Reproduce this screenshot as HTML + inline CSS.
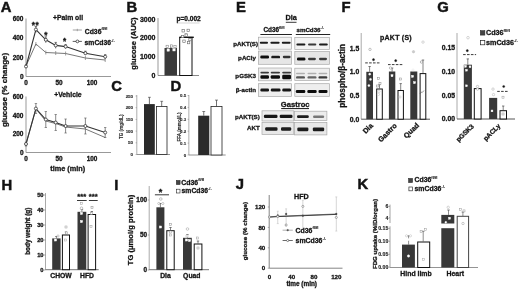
<!DOCTYPE html>
<html><head><meta charset="utf-8"><style>
html,body{margin:0;padding:0;background:#fff;}
svg{display:block;}
text{font-family:"Liberation Sans", Arial, sans-serif;stroke:#1a1a1a;stroke-width:0.3px;}
</style></head><body>
<svg width="520" height="289" viewBox="0 0 520 289">
<defs><filter id="bl" x="-50%" y="-100%" width="200%" height="300%"><feGaussianBlur stdDeviation="0.35"/></filter></defs>
<rect width="520" height="289" fill="#fff"/>
<text x="0.8" y="11.9" font-size="14.8" text-anchor="start" font-weight="bold" fill="#111" style="stroke-width:0.5px">A</text>
<text x="126.6" y="11.9" font-size="14.8" text-anchor="start" font-weight="bold" fill="#111" style="stroke-width:0.5px">B</text>
<text x="111.3" y="91.3" font-size="14.8" text-anchor="start" font-weight="bold" fill="#111" style="stroke-width:0.5px">C</text>
<text x="170.5" y="91.3" font-size="14.8" text-anchor="start" font-weight="bold" fill="#111" style="stroke-width:0.5px">D</text>
<text x="236.1" y="11.9" font-size="14.8" text-anchor="start" font-weight="bold" fill="#111" style="stroke-width:0.5px">E</text>
<text x="341.6" y="11.9" font-size="14.8" text-anchor="start" font-weight="bold" fill="#111" style="stroke-width:0.5px">F</text>
<text x="437.3" y="11.9" font-size="14.8" text-anchor="start" font-weight="bold" fill="#111" style="stroke-width:0.5px">G</text>
<text x="1.6" y="189.5" font-size="14.8" text-anchor="start" font-weight="bold" fill="#111" style="stroke-width:0.5px">H</text>
<text x="114.3" y="189.6" font-size="14.8" text-anchor="start" font-weight="bold" fill="#111" style="stroke-width:0.5px">I</text>
<text x="235.8" y="189.4" font-size="14.8" text-anchor="start" font-weight="bold" fill="#111" style="stroke-width:0.5px">J</text>
<text x="357.6" y="189.4" font-size="14.8" text-anchor="start" font-weight="bold" fill="#111" style="stroke-width:0.5px">K</text>
<line x1="26" y1="18.5" x2="26" y2="76.5" stroke="#aaa" stroke-width="1.2"/>
<line x1="26" y1="76.5" x2="111" y2="76.5" stroke="#999" stroke-width="1.1"/>
<text x="23.5" y="78.8" font-size="6.5" text-anchor="end" font-weight="bold" fill="#111">0</text>
<text x="23.5" y="59.633333333333326" font-size="6.5" text-anchor="end" font-weight="bold" fill="#111">200</text>
<text x="23.5" y="40.46666666666666" font-size="6.5" text-anchor="end" font-weight="bold" fill="#111">400</text>
<text x="23.5" y="21.299999999999994" font-size="6.5" text-anchor="end" font-weight="bold" fill="#111">600</text>
<text x="26.0" y="84.7" font-size="6.4" text-anchor="middle" font-weight="bold" fill="#111">0</text>
<text x="59.0" y="84.7" font-size="6.4" text-anchor="middle" font-weight="bold" fill="#111">50</text>
<text x="92.0" y="84.7" font-size="6.4" text-anchor="middle" font-weight="bold" fill="#111">100</text>
<polyline points="26.0,66 35.9,44 45.8,52.5 55.7,53 65.6,53.5 85.4,58 105.2,60" fill="none" stroke="#777" stroke-width="1"/>
<polyline points="26.0,66.5 35.9,29.5 45.8,39.8 55.7,45.4 65.6,46.6 85.4,53.2 105.2,56.7" fill="none" stroke="#333" stroke-width="1.1"/>
<line x1="26.0" y1="64" x2="26.0" y2="68" stroke="#777" stroke-width="0.7"/>
<line x1="35.9" y1="42" x2="35.9" y2="46" stroke="#777" stroke-width="0.7"/>
<line x1="45.8" y1="50.5" x2="45.8" y2="54.5" stroke="#777" stroke-width="0.7"/>
<line x1="55.7" y1="51" x2="55.7" y2="55" stroke="#777" stroke-width="0.7"/>
<line x1="65.6" y1="51.5" x2="65.6" y2="55.5" stroke="#777" stroke-width="0.7"/>
<line x1="85.4" y1="56" x2="85.4" y2="60" stroke="#777" stroke-width="0.7"/>
<line x1="105.2" y1="58" x2="105.2" y2="62" stroke="#777" stroke-width="0.7"/>
<line x1="26.0" y1="65.0" x2="26.0" y2="68.0" stroke="#333" stroke-width="0.7"/>
<line x1="24.8" y1="65.0" x2="27.2" y2="65.0" stroke="#333" stroke-width="0.6"/>
<circle cx="26.0" cy="66.5" r="1.5" fill="#fff" stroke="#333" stroke-width="0.8"/>
<line x1="35.9" y1="26.5" x2="35.9" y2="32.5" stroke="#333" stroke-width="0.7"/>
<line x1="34.699999999999996" y1="26.5" x2="37.1" y2="26.5" stroke="#333" stroke-width="0.6"/>
<circle cx="35.9" cy="29.5" r="1.5" fill="#fff" stroke="#333" stroke-width="0.8"/>
<line x1="45.8" y1="36.8" x2="45.8" y2="42.8" stroke="#333" stroke-width="0.7"/>
<line x1="44.599999999999994" y1="36.8" x2="47.0" y2="36.8" stroke="#333" stroke-width="0.6"/>
<circle cx="45.8" cy="39.8" r="1.5" fill="#fff" stroke="#333" stroke-width="0.8"/>
<line x1="55.7" y1="42.4" x2="55.7" y2="48.4" stroke="#333" stroke-width="0.7"/>
<line x1="54.5" y1="42.4" x2="56.900000000000006" y2="42.4" stroke="#333" stroke-width="0.6"/>
<circle cx="55.7" cy="45.4" r="1.5" fill="#fff" stroke="#333" stroke-width="0.8"/>
<line x1="65.6" y1="44.6" x2="65.6" y2="48.6" stroke="#333" stroke-width="0.7"/>
<line x1="64.39999999999999" y1="44.6" x2="66.8" y2="44.6" stroke="#333" stroke-width="0.6"/>
<circle cx="65.6" cy="46.6" r="1.5" fill="#fff" stroke="#333" stroke-width="0.8"/>
<line x1="85.4" y1="51.2" x2="85.4" y2="55.2" stroke="#333" stroke-width="0.7"/>
<line x1="84.2" y1="51.2" x2="86.60000000000001" y2="51.2" stroke="#333" stroke-width="0.6"/>
<circle cx="85.4" cy="53.2" r="1.5" fill="#fff" stroke="#333" stroke-width="0.8"/>
<line x1="105.2" y1="54.7" x2="105.2" y2="58.7" stroke="#333" stroke-width="0.7"/>
<line x1="104.0" y1="54.7" x2="106.4" y2="54.7" stroke="#333" stroke-width="0.6"/>
<circle cx="105.2" cy="56.7" r="1.5" fill="#fff" stroke="#333" stroke-width="0.8"/>
<text x="35.6" y="27.6" font-size="8.2" text-anchor="middle" font-weight="bold" fill="#111" letter-spacing="0.6">**</text>
<text x="45.8" y="37.6" font-size="8.2" text-anchor="middle" font-weight="bold" fill="#111">*</text>
<text x="64.5" y="44.2" font-size="8.2" text-anchor="middle" font-weight="bold" fill="#111">*</text>
<text x="53" y="20.2" font-size="6.8" text-anchor="start" font-weight="bold" fill="#111">+Palm oil</text>
<line x1="72.8" y1="30" x2="81.9" y2="30" stroke="#888" stroke-width="0.8"/>
<line x1="77.3" y1="28.8" x2="77.3" y2="31.2" stroke="#888" stroke-width="0.7"/>
<text x="84.8" y="33.5" font-size="6.8" text-anchor="start" font-weight="bold" fill="#111">Cd36<tspan font-size="58%" dy="-3.4" style="stroke-width:0.1px">fl/fl</tspan></text>
<line x1="72.7" y1="41.4" x2="81.9" y2="41.4" stroke="#333" stroke-width="0.8"/>
<circle cx="77.4" cy="41.4" r="1.4" fill="#fff" stroke="#333" stroke-width="0.8"/>
<text x="84.6" y="45" font-size="6.8" text-anchor="start" font-weight="bold" fill="#111">smCd36<tspan font-size="58%" dy="-3.4" style="stroke-width:0.1px">-/-</tspan></text>
<line x1="26" y1="96.5" x2="26" y2="152.5" stroke="#aaa" stroke-width="1.2"/>
<line x1="26" y1="152.5" x2="111" y2="152.5" stroke="#999" stroke-width="1.1"/>
<text x="23.5" y="154.8" font-size="6.5" text-anchor="end" font-weight="bold" fill="#111">0</text>
<text x="23.5" y="136.3" font-size="6.5" text-anchor="end" font-weight="bold" fill="#111">200</text>
<text x="23.5" y="117.8" font-size="6.5" text-anchor="end" font-weight="bold" fill="#111">400</text>
<text x="23.5" y="99.3" font-size="6.5" text-anchor="end" font-weight="bold" fill="#111">600</text>
<text x="26.0" y="161" font-size="6.4" text-anchor="middle" font-weight="bold" fill="#111">0</text>
<text x="59.0" y="161" font-size="6.4" text-anchor="middle" font-weight="bold" fill="#111">50</text>
<text x="92.0" y="161" font-size="6.4" text-anchor="middle" font-weight="bold" fill="#111">100</text>
<text x="67.7" y="170.5" font-size="7.3" text-anchor="middle" font-weight="bold" fill="#111">time (min)</text>
<text x="54.2" y="96.8" font-size="6.8" text-anchor="start" font-weight="bold" fill="#111">+Vehicle</text>
<polyline points="26.0,144 35.9,109 45.8,121 55.7,123.5 65.6,127 85.4,129 105.2,137.5" fill="none" stroke="#777" stroke-width="1"/>
<polyline points="26.0,144 35.9,108.5 45.8,119.5 55.7,122.5 65.6,126 85.4,126 105.2,132.5" fill="none" stroke="#333" stroke-width="1.1"/>
<line x1="26.0" y1="142" x2="26.0" y2="146" stroke="#555" stroke-width="0.7"/>
<line x1="24.8" y1="142" x2="27.2" y2="142" stroke="#555" stroke-width="0.6"/>
<line x1="24.8" y1="146" x2="27.2" y2="146" stroke="#555" stroke-width="0.6"/>
<circle cx="26.0" cy="144" r="1.5" fill="#fff" stroke="#333" stroke-width="0.8"/>
<line x1="35.9" y1="103.5" x2="35.9" y2="113.5" stroke="#555" stroke-width="0.7"/>
<line x1="34.699999999999996" y1="103.5" x2="37.1" y2="103.5" stroke="#555" stroke-width="0.6"/>
<line x1="34.699999999999996" y1="113.5" x2="37.1" y2="113.5" stroke="#555" stroke-width="0.6"/>
<circle cx="35.9" cy="108.5" r="1.5" fill="#fff" stroke="#333" stroke-width="0.8"/>
<line x1="45.8" y1="111.5" x2="45.8" y2="127.5" stroke="#555" stroke-width="0.7"/>
<line x1="44.599999999999994" y1="111.5" x2="47.0" y2="111.5" stroke="#555" stroke-width="0.6"/>
<line x1="44.599999999999994" y1="127.5" x2="47.0" y2="127.5" stroke="#555" stroke-width="0.6"/>
<circle cx="45.8" cy="119.5" r="1.5" fill="#fff" stroke="#333" stroke-width="0.8"/>
<line x1="55.7" y1="114.5" x2="55.7" y2="130.5" stroke="#555" stroke-width="0.7"/>
<line x1="54.5" y1="114.5" x2="56.900000000000006" y2="114.5" stroke="#555" stroke-width="0.6"/>
<line x1="54.5" y1="130.5" x2="56.900000000000006" y2="130.5" stroke="#555" stroke-width="0.6"/>
<circle cx="55.7" cy="122.5" r="1.5" fill="#fff" stroke="#333" stroke-width="0.8"/>
<line x1="65.6" y1="119" x2="65.6" y2="133" stroke="#555" stroke-width="0.7"/>
<line x1="64.39999999999999" y1="119" x2="66.8" y2="119" stroke="#555" stroke-width="0.6"/>
<line x1="64.39999999999999" y1="133" x2="66.8" y2="133" stroke="#555" stroke-width="0.6"/>
<circle cx="65.6" cy="126" r="1.5" fill="#fff" stroke="#333" stroke-width="0.8"/>
<line x1="85.4" y1="118" x2="85.4" y2="134" stroke="#555" stroke-width="0.7"/>
<line x1="84.2" y1="118" x2="86.60000000000001" y2="118" stroke="#555" stroke-width="0.6"/>
<line x1="84.2" y1="134" x2="86.60000000000001" y2="134" stroke="#555" stroke-width="0.6"/>
<circle cx="85.4" cy="126" r="1.5" fill="#fff" stroke="#333" stroke-width="0.8"/>
<line x1="105.2" y1="127.5" x2="105.2" y2="137.5" stroke="#555" stroke-width="0.7"/>
<line x1="104.0" y1="127.5" x2="106.4" y2="127.5" stroke="#555" stroke-width="0.6"/>
<line x1="104.0" y1="137.5" x2="106.4" y2="137.5" stroke="#555" stroke-width="0.6"/>
<circle cx="105.2" cy="132.5" r="1.5" fill="#fff" stroke="#333" stroke-width="0.8"/>
<text x="6.8" y="90" font-size="7.9" text-anchor="middle" font-weight="bold" fill="#111" transform="rotate(-90 6.8 90)">glucose (% change)</text>
<line x1="158" y1="18" x2="158" y2="75.5" stroke="#aaa" stroke-width="1.2"/>
<line x1="158" y1="75.5" x2="199" y2="75.5" stroke="#888" stroke-width="1.1"/>
<text x="155.5" y="78.0" font-size="7" text-anchor="end" font-weight="bold" fill="#111">0</text>
<text x="155.5" y="59.16666666666667" font-size="7" text-anchor="end" font-weight="bold" fill="#111">1000</text>
<text x="155.5" y="40.333333333333336" font-size="7" text-anchor="end" font-weight="bold" fill="#111">2000</text>
<text x="155.5" y="21.5" font-size="7" text-anchor="end" font-weight="bold" fill="#111">3000</text>
<text x="136" y="43.5" font-size="7.6" text-anchor="middle" font-weight="bold" fill="#111" transform="rotate(-90 136 43.5)">glucose (AUC)</text>
<rect x="164.5" y="48" width="12.5" height="27.5" fill="#3a3a3a" stroke="none" stroke-width="1"/>
<rect x="179.7" y="37.4" width="12.3" height="38.1" fill="#fff" stroke="#111" stroke-width="1.0"/>
<line x1="179.5" y1="37.3" x2="193.8" y2="37.3" stroke="#111" stroke-width="1.4"/>
<line x1="170.75" y1="45.5" x2="170.75" y2="48" stroke="#333" stroke-width="0.6"/>
<line x1="186" y1="34" x2="186" y2="37" stroke="#333" stroke-width="0.6"/>
<line x1="184.6" y1="34" x2="187.4" y2="34" stroke="#333" stroke-width="0.6"/>
<rect x="166.04999999999998" y="45.25" width="2.3" height="2.3" fill="#fff" stroke="#888" stroke-width="0.6"/>
<rect x="170.35" y="44.85" width="2.3" height="2.3" fill="#fff" stroke="#888" stroke-width="0.6"/>
<rect x="173.85" y="45.45" width="2.3" height="2.3" fill="#fff" stroke="#888" stroke-width="0.6"/>
<rect x="167.04999999999998" y="48.85" width="2.3" height="2.3" fill="#fff" stroke="#fff" stroke-width="0.5"/>
<rect x="172.85" y="48.65" width="2.3" height="2.3" fill="#fff" stroke="#fff" stroke-width="0.5"/>
<rect x="182.0" y="29.6" width="2.4" height="2.4" fill="#fff" stroke="#666" stroke-width="0.6"/>
<rect x="187.0" y="29.2" width="2.4" height="2.4" fill="#fff" stroke="#666" stroke-width="0.6"/>
<rect x="181.4" y="35.3" width="2.4" height="2.4" fill="#fff" stroke="#666" stroke-width="0.6"/>
<rect x="185.0" y="34.0" width="2.4" height="2.4" fill="#fff" stroke="#666" stroke-width="0.6"/>
<rect x="188.8" y="38.4" width="2.4" height="2.4" fill="#fff" stroke="#666" stroke-width="0.6"/>
<rect x="182.8" y="40.0" width="2.4" height="2.4" fill="#fff" stroke="#666" stroke-width="0.6"/>
<rect x="187.4" y="41.4" width="2.4" height="2.4" fill="#fff" stroke="#666" stroke-width="0.6"/>
<text x="188.6" y="21.3" font-size="6.6" text-anchor="middle" font-weight="bold" fill="#111">p=0.002</text>
<line x1="177.5" y1="23" x2="199.5" y2="23" stroke="#bbb" stroke-width="0.6"/>
<line x1="136.8" y1="95" x2="136.8" y2="154.5" stroke="#999" stroke-width="0.8"/>
<line x1="136.8" y1="154.5" x2="170" y2="154.5" stroke="#777" stroke-width="0.8"/>
<line x1="135.6" y1="154.5" x2="136.8" y2="154.5" stroke="#777" stroke-width="0.5"/>
<text x="133" y="156.1" font-size="4.4" text-anchor="end" font-weight="bold" fill="#333" style="stroke-width:0.12px">0</text>
<line x1="135.6" y1="142.8" x2="136.8" y2="142.8" stroke="#777" stroke-width="0.5"/>
<text x="133" y="144.4" font-size="4.4" text-anchor="end" font-weight="bold" fill="#333" style="stroke-width:0.12px">50</text>
<line x1="135.6" y1="131.1" x2="136.8" y2="131.1" stroke="#777" stroke-width="0.5"/>
<text x="133" y="132.7" font-size="4.4" text-anchor="end" font-weight="bold" fill="#333" style="stroke-width:0.12px">100</text>
<line x1="135.6" y1="119.4" x2="136.8" y2="119.4" stroke="#777" stroke-width="0.5"/>
<text x="133" y="121.0" font-size="4.4" text-anchor="end" font-weight="bold" fill="#333" style="stroke-width:0.12px">150</text>
<line x1="135.6" y1="107.69999999999999" x2="136.8" y2="107.69999999999999" stroke="#777" stroke-width="0.5"/>
<text x="133" y="109.29999999999998" font-size="4.4" text-anchor="end" font-weight="bold" fill="#333" style="stroke-width:0.12px">200</text>
<line x1="135.6" y1="96.0" x2="136.8" y2="96.0" stroke="#777" stroke-width="0.5"/>
<text x="133" y="97.6" font-size="4.4" text-anchor="end" font-weight="bold" fill="#333" style="stroke-width:0.12px">250</text>
<text x="122.9" y="126.8" font-size="4.6" text-anchor="middle" font-weight="bold" fill="#333" transform="rotate(-90 122.9 126.8)" style="stroke-width:0.12px">TG (mg/dL)</text>
<rect x="144" y="104.1" width="10.8" height="50.4" fill="#2a2a2a" stroke="none" stroke-width="1"/>
<rect x="156.4" y="106.4" width="10.6" height="48.1" fill="#fff" stroke="#222" stroke-width="0.8"/>
<line x1="149.4" y1="97.3" x2="149.4" y2="104.1" stroke="#333" stroke-width="0.7"/>
<line x1="148" y1="97.3" x2="150.8" y2="97.3" stroke="#333" stroke-width="0.6"/>
<line x1="161.7" y1="101.3" x2="161.7" y2="106.4" stroke="#333" stroke-width="0.7"/>
<line x1="160.3" y1="101.3" x2="163.1" y2="101.3" stroke="#333" stroke-width="0.6"/>
<line x1="188.85" y1="95" x2="188.85" y2="155" stroke="#999" stroke-width="0.8"/>
<line x1="188.85" y1="155" x2="225.7" y2="155" stroke="#777" stroke-width="0.8"/>
<line x1="187.6" y1="155.0" x2="188.85" y2="155.0" stroke="#777" stroke-width="0.5"/>
<text x="186.2" y="156.6" font-size="4.4" text-anchor="end" font-weight="bold" fill="#333" style="stroke-width:0.12px">0</text>
<line x1="187.6" y1="143.1" x2="188.85" y2="143.1" stroke="#777" stroke-width="0.5"/>
<text x="186.2" y="144.7" font-size="4.4" text-anchor="end" font-weight="bold" fill="#333" style="stroke-width:0.12px">0.1</text>
<line x1="187.6" y1="131.2" x2="188.85" y2="131.2" stroke="#777" stroke-width="0.5"/>
<text x="186.2" y="132.79999999999998" font-size="4.4" text-anchor="end" font-weight="bold" fill="#333" style="stroke-width:0.12px">0.2</text>
<line x1="187.6" y1="119.30000000000001" x2="188.85" y2="119.30000000000001" stroke="#777" stroke-width="0.5"/>
<text x="186.2" y="120.9" font-size="4.4" text-anchor="end" font-weight="bold" fill="#333" style="stroke-width:0.12px">0.3</text>
<line x1="187.6" y1="107.4" x2="188.85" y2="107.4" stroke="#777" stroke-width="0.5"/>
<text x="186.2" y="109.0" font-size="4.4" text-anchor="end" font-weight="bold" fill="#333" style="stroke-width:0.12px">0.4</text>
<line x1="187.6" y1="95.5" x2="188.85" y2="95.5" stroke="#777" stroke-width="0.5"/>
<text x="186.2" y="97.1" font-size="4.4" text-anchor="end" font-weight="bold" fill="#333" style="stroke-width:0.12px">0.5</text>
<text x="181.3" y="127" font-size="4.6" text-anchor="middle" font-weight="bold" fill="#333" transform="rotate(-90 181.3 127)" style="stroke-width:0.12px">FFA (mmol/L)</text>
<rect x="198.2" y="115.7" width="11.1" height="39.3" fill="#2a2a2a" stroke="none" stroke-width="1"/>
<rect x="211" y="106.4" width="11" height="48.6" fill="#fff" stroke="#222" stroke-width="0.8"/>
<line x1="203.75" y1="111.5" x2="203.75" y2="115.7" stroke="#333" stroke-width="0.7"/>
<line x1="202.3" y1="111.5" x2="205.2" y2="111.5" stroke="#333" stroke-width="0.6"/>
<line x1="216.5" y1="100.1" x2="216.5" y2="106.4" stroke="#333" stroke-width="0.7"/>
<line x1="215" y1="100.1" x2="218" y2="100.1" stroke="#333" stroke-width="0.6"/>
<text x="291.1" y="20.4" font-size="7.3" text-anchor="middle" font-weight="bold" fill="#111">Dia</text>
<line x1="285.8" y1="22.3" x2="296.5" y2="22.3" stroke="#222" stroke-width="0.9"/>
<text x="274" y="32.2" font-size="6.4" text-anchor="middle" font-weight="bold" fill="#111">Cd36<tspan font-size="58%" dy="-3.4" style="stroke-width:0.1px">fl/fl</tspan></text>
<line x1="260.4" y1="34.5" x2="291.9" y2="34.5" stroke="#222" stroke-width="1.0"/>
<text x="310.2" y="32.2" font-size="6.2" text-anchor="middle" font-weight="bold" fill="#111">smCd36<tspan font-size="58%" dy="-3.4" style="stroke-width:0.1px">-/-</tspan></text>
<line x1="295.8" y1="34.5" x2="330.2" y2="34.5" stroke="#222" stroke-width="1.0"/>
<text x="258" y="45.9" font-size="6.2" text-anchor="end" font-weight="bold" fill="#111">pAKT(S)</text>
<text x="256" y="60" font-size="6.2" text-anchor="end" font-weight="bold" fill="#111">pACly</text>
<text x="256" y="77.7" font-size="6.2" text-anchor="end" font-weight="bold" fill="#111">pGSK3</text>
<text x="256" y="92.3" font-size="6.2" text-anchor="end" font-weight="bold" fill="#111">β-actin</text>
<rect x="258.6" y="37.2" width="33.0" height="12.0" fill="#f3f3f3" stroke="#a8a8a8" stroke-width="0.7"/>
<rect x="294.8" y="37.4" width="34.599999999999966" height="12.0" fill="#f3f3f3" stroke="#a8a8a8" stroke-width="0.7"/>
<rect x="258.6" y="51.1" width="33.0" height="13.199999999999996" fill="#e6e6e6" stroke="#a8a8a8" stroke-width="0.7"/>
<rect x="294.8" y="51.6" width="34.599999999999966" height="12.699999999999996" fill="#e6e6e6" stroke="#a8a8a8" stroke-width="0.7"/>
<rect x="258.6" y="68.0" width="33.0" height="12.799999999999997" fill="#ececec" stroke="#a8a8a8" stroke-width="0.7"/>
<rect x="294.8" y="68.2" width="34.599999999999966" height="12.299999999999997" fill="#efefef" stroke="#a8a8a8" stroke-width="0.7"/>
<rect x="258.6" y="83.7" width="33.0" height="12.899999999999991" fill="#eeeeee" stroke="#a8a8a8" stroke-width="0.7"/>
<rect x="294.8" y="83.7" width="34.599999999999966" height="12.599999999999994" fill="#eeeeee" stroke="#a8a8a8" stroke-width="0.7"/>
<rect x="259.8" y="41.8" width="8.199999999999989" height="2.0" rx="1.0" fill="#1a1a1a" filter="url(#bl)"/>
<rect x="270.4" y="41.8" width="9.200000000000045" height="2.0" rx="1.0" fill="#1a1a1a" filter="url(#bl)"/>
<rect x="281.8" y="41.8" width="8.800000000000011" height="2.0" rx="1.0" fill="#1a1a1a" filter="url(#bl)"/>
<rect x="296.4" y="43.5" width="9.0" height="2.0" rx="1.0" fill="#1a1a1a" filter="url(#bl)"/>
<rect x="308" y="43.5" width="8.300000000000011" height="2.0" rx="1.0" fill="#3a3a3a" filter="url(#bl)"/>
<rect x="319" y="43.5" width="8.800000000000011" height="2.0" rx="1.0" fill="#1a1a1a" filter="url(#bl)"/>
<rect x="260.3" y="55.5" width="8.699999999999989" height="3.0" rx="1.2" fill="#111" filter="url(#bl)"/>
<rect x="271.3" y="55.65" width="8.699999999999989" height="2.7" rx="1.2" fill="#1a1a1a" filter="url(#bl)"/>
<rect x="282.8" y="55.85" width="7.800000000000011" height="2.3" rx="1.15" fill="#333" filter="url(#bl)"/>
<rect x="297" y="57.55" width="8.399999999999977" height="2.9" rx="1.2" fill="#111" filter="url(#bl)"/>
<rect x="308" y="57.85" width="7.899999999999977" height="2.3" rx="1.15" fill="#3a3a3a" filter="url(#bl)"/>
<rect x="319" y="57.85" width="8" height="2.3" rx="1.15" fill="#3a3a3a" filter="url(#bl)"/>
<rect x="260.4" y="71.64999999999999" width="8.600000000000023" height="1.9" rx="0.95" fill="#3a3a3a" filter="url(#bl)"/>
<rect x="260.4" y="75.35" width="8.600000000000023" height="3.3" rx="1.2" fill="#111" filter="url(#bl)"/>
<rect x="270.7" y="71.64999999999999" width="9.300000000000011" height="1.9" rx="0.95" fill="#3a3a3a" filter="url(#bl)"/>
<rect x="270.7" y="75.35" width="9.300000000000011" height="3.3" rx="1.2" fill="#111" filter="url(#bl)"/>
<rect x="282.2" y="71.64999999999999" width="8.800000000000011" height="1.9" rx="0.95" fill="#3a3a3a" filter="url(#bl)"/>
<rect x="282.2" y="74.8" width="8.800000000000011" height="4.4" rx="1.2" fill="#111" filter="url(#bl)"/>
<rect x="296" y="72.7" width="9" height="1.6" rx="0.8" fill="#b0b0b0" filter="url(#bl)"/>
<rect x="296" y="76.2" width="9" height="2.4" rx="1.2" fill="#555" filter="url(#bl)"/>
<rect x="307.5" y="72.7" width="9.0" height="1.6" rx="0.8" fill="#b0b0b0" filter="url(#bl)"/>
<rect x="307.5" y="76.2" width="9.0" height="2.4" rx="1.2" fill="#666" filter="url(#bl)"/>
<rect x="318.5" y="72.7" width="8.800000000000011" height="1.6" rx="0.8" fill="#b0b0b0" filter="url(#bl)"/>
<rect x="318.5" y="76.2" width="8.800000000000011" height="2.4" rx="1.2" fill="#3a3a3a" filter="url(#bl)"/>
<rect x="260.4" y="88.55" width="8.600000000000023" height="2.9" rx="1.2" fill="#151515" filter="url(#bl)"/>
<rect x="270.8" y="88.55" width="9.699999999999989" height="2.9" rx="1.2" fill="#151515" filter="url(#bl)"/>
<rect x="282.3" y="88.55" width="8.699999999999989" height="2.9" rx="1.2" fill="#151515" filter="url(#bl)"/>
<rect x="295.8" y="89.9" width="9.5" height="3.0" rx="1.2" fill="#111" filter="url(#bl)"/>
<rect x="307.3" y="89.9" width="9.399999999999977" height="3.0" rx="1.2" fill="#111" filter="url(#bl)"/>
<rect x="318.5" y="89.9" width="9.0" height="3.0" rx="1.2" fill="#111" filter="url(#bl)"/>
<text x="295.2" y="106.8" font-size="7.6" text-anchor="middle" font-weight="bold" fill="#111">Gastroc</text>
<line x1="281.2" y1="108.6" x2="309" y2="108.6" stroke="#111" stroke-width="1.0"/>
<text x="259.8" y="119" font-size="6.2" text-anchor="end" font-weight="bold" fill="#111">pAKT(S)</text>
<text x="259.8" y="129.6" font-size="6.2" text-anchor="end" font-weight="bold" fill="#111">AKT</text>
<rect x="262" y="110.8" width="31.80000000000001" height="10.200000000000003" fill="#ececec" stroke="#a8a8a8" stroke-width="0.7"/>
<rect x="294.6" y="111.2" width="32.299999999999955" height="9.200000000000003" fill="#ececec" stroke="#a8a8a8" stroke-width="0.7"/>
<rect x="262" y="122.6" width="31.80000000000001" height="11.900000000000006" fill="#e8e8e8" stroke="#a8a8a8" stroke-width="0.7"/>
<rect x="294.6" y="122.6" width="32.299999999999955" height="12.300000000000011" fill="#e8e8e8" stroke="#a8a8a8" stroke-width="0.7"/>
<rect x="263.9" y="114.7" width="13.600000000000023" height="3.2" rx="1.2" fill="#151515" filter="url(#bl)"/>
<rect x="279.7" y="114.7" width="12.800000000000011" height="3.2" rx="1.2" fill="#151515" filter="url(#bl)"/>
<rect x="297" y="115.19999999999999" width="11.800000000000011" height="2.8" rx="1.2" fill="#1a1a1a" filter="url(#bl)"/>
<rect x="313" y="115.6" width="11.199999999999989" height="2.4" rx="1.2" fill="#777" filter="url(#bl)"/>
<rect x="265.2" y="127.2" width="12.300000000000011" height="3.6" rx="1.2" fill="#1a1a1a" filter="url(#bl)"/>
<rect x="281" y="127.2" width="10.199999999999989" height="3.6" rx="1.2" fill="#1a1a1a" filter="url(#bl)"/>
<rect x="297.3" y="127.60000000000001" width="11.099999999999966" height="3.6" rx="1.2" fill="#1f1f1f" filter="url(#bl)"/>
<rect x="312.8" y="127.60000000000001" width="11.399999999999977" height="3.6" rx="1.2" fill="#1f1f1f" filter="url(#bl)"/>
<line x1="361.2" y1="33" x2="361.2" y2="119.2" stroke="#aaa" stroke-width="1.0"/>
<line x1="361.2" y1="119.2" x2="430" y2="119.2" stroke="#555" stroke-width="1.0"/>
<text x="359.3" y="121.60000000000001" font-size="6.8" text-anchor="end" font-weight="bold" fill="#111">0.0</text>
<text x="359.3" y="97.95000000000002" font-size="6.8" text-anchor="end" font-weight="bold" fill="#111">0.5</text>
<text x="359.3" y="74.30000000000001" font-size="6.8" text-anchor="end" font-weight="bold" fill="#111">1.0</text>
<text x="359.3" y="50.65000000000001" font-size="6.8" text-anchor="end" font-weight="bold" fill="#111">1.5</text>
<text x="345.2" y="75.8" font-size="8.2" text-anchor="middle" font-weight="bold" fill="#111" transform="rotate(-90 345.2 75.8)">phospho/β-actin</text>
<text x="396" y="40.2" font-size="7" text-anchor="middle" font-weight="bold" fill="#111" letter-spacing="0.25">pAKT (S)</text>
<rect x="366.3" y="71.8" width="6.699999999999989" height="47.400000000000006" fill="#383838" stroke="none" stroke-width="1"/>
<rect x="376.7" y="89.0" width="5.600000000000023" height="30.200000000000003" fill="#fff" stroke="#111" stroke-width="1.0"/>
<rect x="388.9" y="71.5" width="6.400000000000034" height="47.7" fill="#383838" stroke="none" stroke-width="1"/>
<rect x="398.0" y="90.5" width="5.399999999999977" height="28.700000000000003" fill="#fff" stroke="#111" stroke-width="1.0"/>
<rect x="410.3" y="71.5" width="7.0" height="47.7" fill="#383838" stroke="none" stroke-width="1"/>
<rect x="420.1" y="73.6" width="5.699999999999989" height="45.60000000000001" fill="#fff" stroke="#111" stroke-width="1.0"/>
<line x1="365.2" y1="62.9" x2="379.7" y2="62.9" stroke="#222" stroke-width="0.9" stroke-dasharray="2.6,1.3"/>
<circle cx="373.5" cy="59.7" r="1.1" fill="#111" stroke="#111" stroke-width="0.3"/>
<line x1="388" y1="64.6" x2="402.5" y2="64.6" stroke="#222" stroke-width="0.9" stroke-dasharray="2.6,1.3"/>
<circle cx="395.7" cy="60.7" r="1.1" fill="#111" stroke="#111" stroke-width="0.3"/>
<line x1="369.6" y1="66.5" x2="369.6" y2="71.8" stroke="#333" stroke-width="0.6"/>
<line x1="368.40000000000003" y1="66.5" x2="370.8" y2="66.5" stroke="#333" stroke-width="0.6"/>
<line x1="379.5" y1="84.6" x2="379.5" y2="88.5" stroke="#333" stroke-width="0.6"/>
<line x1="378.3" y1="84.6" x2="380.7" y2="84.6" stroke="#333" stroke-width="0.6"/>
<line x1="392.1" y1="68" x2="392.1" y2="71.5" stroke="#333" stroke-width="0.6"/>
<line x1="390.90000000000003" y1="68" x2="393.3" y2="68" stroke="#333" stroke-width="0.6"/>
<line x1="400.7" y1="83.6" x2="400.7" y2="90" stroke="#333" stroke-width="0.6"/>
<line x1="399.5" y1="83.6" x2="401.9" y2="83.6" stroke="#333" stroke-width="0.6"/>
<line x1="423" y1="60" x2="423" y2="73.1" stroke="#333" stroke-width="0.6"/>
<line x1="421.8" y1="60" x2="424.2" y2="60" stroke="#333" stroke-width="0.6"/>
<circle cx="370" cy="49.4" r="1.2" fill="#fff" stroke="#999" stroke-width="0.6"/>
<circle cx="369.7" cy="74.2" r="1.1" fill="#fff" stroke="#fff" stroke-width="0.3"/>
<circle cx="370.5" cy="79.4" r="1.1" fill="#fff" stroke="#fff" stroke-width="0.3"/>
<circle cx="368.9" cy="85.6" r="1.1" fill="#fff" stroke="#fff" stroke-width="0.3"/>
<rect x="377.5" y="77.4" width="2" height="2" fill="#fff" stroke="#888" stroke-width="0.5"/>
<rect x="379.0" y="82.3" width="2" height="2" fill="#fff" stroke="#888" stroke-width="0.5"/>
<rect x="376.5" y="85.0" width="2" height="2" fill="#fff" stroke="#888" stroke-width="0.5"/>
<circle cx="379" cy="91.5" r="1.1" fill="#fff" stroke="#bbb" stroke-width="0.5"/>
<circle cx="378.5" cy="94.4" r="1.1" fill="#fff" stroke="#bbb" stroke-width="0.5"/>
<circle cx="390.5" cy="68" r="1.2" fill="#fff" stroke="#888" stroke-width="0.5"/>
<rect x="391.0" y="74.7" width="2" height="2" fill="#fff" stroke="#fff" stroke-width="0.4"/>
<rect x="399.6" y="78.0" width="2" height="2" fill="#fff" stroke="#888" stroke-width="0.5"/>
<circle cx="400" cy="97" r="1.1" fill="#fff" stroke="#bbb" stroke-width="0.5"/>
<circle cx="423" cy="42.1" r="1.2" fill="#fff" stroke="#bbb" stroke-width="0.6"/>
<circle cx="413.5" cy="51.7" r="1.2" fill="#ccc" stroke="#bbb" stroke-width="0.5"/>
<circle cx="421.5" cy="62" r="1.2" fill="#fff" stroke="#888" stroke-width="0.6"/>
<rect x="411.5" y="75.3" width="2" height="2" fill="#fff" stroke="#fff" stroke-width="0.4"/>
<rect x="413.5" y="81.6" width="2" height="2" fill="#fff" stroke="#fff" stroke-width="0.4"/>
<circle cx="413" cy="70" r="1.1" fill="#fff" stroke="#ddd" stroke-width="0.4"/>
<polyline points="419.8,94 421.5,92 422.2,92.5 424,90.5" fill="none" stroke="#555" stroke-width="0.6"/>
<text x="373.6" y="126.2" font-size="7.2" text-anchor="end" font-weight="bold" fill="#111" transform="rotate(-45 373.6 126.2)">Dia</text>
<text x="397.4" y="126.2" font-size="7.2" text-anchor="end" font-weight="bold" fill="#111" transform="rotate(-45 397.4 126.2)">Gastro</text>
<text x="419.6" y="125.8" font-size="7.2" text-anchor="end" font-weight="bold" fill="#111" transform="rotate(-45 419.6 125.8)">Quad</text>
<line x1="457" y1="33" x2="457" y2="119" stroke="#aaa" stroke-width="1.0"/>
<line x1="457" y1="119" x2="515" y2="119" stroke="#555" stroke-width="1.0"/>
<text x="455" y="121.4" font-size="6.8" text-anchor="end" font-weight="bold" fill="#111">0.00</text>
<text x="455" y="97.7" font-size="6.8" text-anchor="end" font-weight="bold" fill="#111">0.05</text>
<text x="455" y="74.0" font-size="6.8" text-anchor="end" font-weight="bold" fill="#111">0.10</text>
<text x="455" y="50.300000000000004" font-size="6.8" text-anchor="end" font-weight="bold" fill="#111">0.15</text>
<rect x="463.8" y="64.7" width="8.099999999999966" height="54.3" fill="#383838" stroke="none" stroke-width="1"/>
<rect x="474.3" y="88.6" width="6.800000000000011" height="30.400000000000006" fill="#fff" stroke="#111" stroke-width="1.0"/>
<rect x="489.1" y="97.9" width="8.099999999999966" height="21.099999999999994" fill="#383838" stroke="none" stroke-width="1"/>
<rect x="500.0" y="110.7" width="6.5" height="8.299999999999997" fill="#fff" stroke="#111" stroke-width="1.0"/>
<line x1="463.1" y1="54.6" x2="476.1" y2="54.6" stroke="#222" stroke-width="0.9" stroke-dasharray="2.6,1.3"/>
<circle cx="467.3" cy="50.7" r="1.1" fill="#111" stroke="#111" stroke-width="0.3"/>
<line x1="497.2" y1="91.4" x2="508.6" y2="91.4" stroke="#222" stroke-width="0.9" stroke-dasharray="2.6,1.3"/>
<circle cx="503.7" cy="86.5" r="1.1" fill="#111" stroke="#111" stroke-width="0.3"/>
<line x1="467.8" y1="58.9" x2="467.8" y2="64.7" stroke="#333" stroke-width="0.6"/>
<line x1="466.6" y1="58.9" x2="469.0" y2="58.9" stroke="#333" stroke-width="0.6"/>
<line x1="503.2" y1="106" x2="503.2" y2="110.2" stroke="#333" stroke-width="0.6"/>
<line x1="502.0" y1="106" x2="504.4" y2="106" stroke="#333" stroke-width="0.6"/>
<circle cx="468" cy="37.7" r="1.3" fill="#fff" stroke="#bbb" stroke-width="0.6"/>
<rect x="464.6" y="65.39999999999999" width="1.8" height="1.8" fill="#fff" stroke="#fff" stroke-width="0.4"/>
<rect x="469.1" y="65.89999999999999" width="1.8" height="1.8" fill="#fff" stroke="#fff" stroke-width="0.4"/>
<rect x="465.6" y="69.3" width="1.8" height="1.8" fill="#fff" stroke="#fff" stroke-width="0.4"/>
<rect x="465.6" y="84.89999999999999" width="1.8" height="1.8" fill="#fff" stroke="#fff" stroke-width="0.4"/>
<circle cx="477.5" cy="86.5" r="1.2" fill="#fff" stroke="#999" stroke-width="0.5"/>
<circle cx="477.5" cy="89.1" r="1.2" fill="#fff" stroke="#999" stroke-width="0.5"/>
<circle cx="493" cy="89.1" r="1.2" fill="#fff" stroke="#aaa" stroke-width="0.5"/>
<circle cx="493.5" cy="94.6" r="1.2" fill="#fff" stroke="#aaa" stroke-width="0.5"/>
<rect x="491.1" y="110.0" width="1.8" height="1.8" fill="#fff" stroke="#fff" stroke-width="0.4"/>
<rect x="502.0" y="96.2" width="2" height="2" fill="#fff" stroke="#999" stroke-width="0.5"/>
<rect x="502.0" y="113.0" width="2" height="2" fill="#fff" stroke="#999" stroke-width="0.5"/>
<rect x="480.3" y="30.6" width="4.6" height="4.5" fill="#444" stroke="#222" stroke-width="0.5"/>
<text x="486" y="35.2" font-size="7.2" text-anchor="start" font-weight="bold" fill="#111">Cd36<tspan font-size="58%" dy="-3.4" style="stroke-width:0.1px">fl/fl</tspan></text>
<rect x="480.6" y="40.6" width="4.2" height="4.2" fill="#fff" stroke="#222" stroke-width="0.7"/>
<text x="486" y="45.2" font-size="7.2" text-anchor="start" font-weight="bold" fill="#111">smCd36<tspan font-size="58%" dy="-3.4" style="stroke-width:0.1px">-/-</tspan></text>
<text x="474.3" y="126.8" font-size="6.6" text-anchor="end" font-weight="bold" fill="#111" transform="rotate(-45 474.3 126.8)">pGSK3</text>
<text x="500.8" y="126.4" font-size="6.6" text-anchor="end" font-weight="bold" fill="#111" transform="rotate(-45 500.8 126.4)">pACLy</text>
<line x1="45.5" y1="193" x2="45.5" y2="270" stroke="#aaa" stroke-width="1.0"/>
<line x1="45.5" y1="269.7" x2="98.7" y2="269.7" stroke="#777" stroke-width="1.0"/>
<line x1="44" y1="270.0" x2="45.5" y2="270.0" stroke="#777" stroke-width="0.6"/>
<text x="43.6" y="272.0" font-size="5.8" text-anchor="end" font-weight="bold" fill="#111">0</text>
<line x1="44" y1="255.0" x2="45.5" y2="255.0" stroke="#777" stroke-width="0.6"/>
<text x="43.6" y="257.0" font-size="5.8" text-anchor="end" font-weight="bold" fill="#111">10</text>
<line x1="44" y1="240.0" x2="45.5" y2="240.0" stroke="#777" stroke-width="0.6"/>
<text x="43.6" y="242.0" font-size="5.8" text-anchor="end" font-weight="bold" fill="#111">20</text>
<line x1="44" y1="225.0" x2="45.5" y2="225.0" stroke="#777" stroke-width="0.6"/>
<text x="43.6" y="227.0" font-size="5.8" text-anchor="end" font-weight="bold" fill="#111">30</text>
<line x1="44" y1="210.0" x2="45.5" y2="210.0" stroke="#777" stroke-width="0.6"/>
<text x="43.6" y="212.0" font-size="5.8" text-anchor="end" font-weight="bold" fill="#111">40</text>
<line x1="44" y1="195.0" x2="45.5" y2="195.0" stroke="#777" stroke-width="0.6"/>
<text x="43.6" y="197.0" font-size="5.8" text-anchor="end" font-weight="bold" fill="#111">50</text>
<text x="29.8" y="231.2" font-size="6.4" text-anchor="middle" font-weight="bold" fill="#111" transform="rotate(-90 29.8 231.2)">body weight (g)</text>
<rect x="52.2" y="238.4" width="8.399999999999999" height="31.299999999999983" fill="#383838" stroke="none" stroke-width="1"/>
<rect x="62.4" y="235.0" width="7.100000000000001" height="34.69999999999999" fill="#fff" stroke="#111" stroke-width="1.0"/>
<rect x="77.5" y="211.8" width="8.799999999999997" height="57.89999999999998" fill="#383838" stroke="none" stroke-width="1"/>
<rect x="88.1" y="214.5" width="7.5" height="55.19999999999999" fill="#fff" stroke="#111" stroke-width="1.0"/>
<text x="61" y="277.6" font-size="6.8" text-anchor="middle" font-weight="bold" fill="#111">CHOW</text>
<text x="87" y="277.6" font-size="6.8" text-anchor="middle" font-weight="bold" fill="#111">HFD</text>
<text x="81.8" y="199.2" font-size="7.6" text-anchor="middle" font-weight="bold" fill="#111">***</text>
<line x1="77" y1="200.5" x2="86.7" y2="200.5" stroke="#222" stroke-width="0.9"/>
<text x="93.3" y="199.2" font-size="7.6" text-anchor="middle" font-weight="bold" fill="#111">***</text>
<line x1="88.9" y1="200.5" x2="97.7" y2="200.5" stroke="#222" stroke-width="0.9"/>
<line x1="56.4" y1="236.5" x2="56.4" y2="238.4" stroke="#333" stroke-width="0.6"/>
<line x1="55.199999999999996" y1="236.5" x2="57.6" y2="236.5" stroke="#333" stroke-width="0.6"/>
<line x1="66" y1="232" x2="66" y2="234.5" stroke="#333" stroke-width="0.6"/>
<line x1="64.8" y1="232" x2="67.2" y2="232" stroke="#333" stroke-width="0.6"/>
<line x1="81.9" y1="209.5" x2="81.9" y2="211.8" stroke="#333" stroke-width="0.6"/>
<line x1="80.7" y1="209.5" x2="83.10000000000001" y2="209.5" stroke="#333" stroke-width="0.6"/>
<line x1="91.8" y1="211.5" x2="91.8" y2="214" stroke="#333" stroke-width="0.6"/>
<line x1="90.6" y1="211.5" x2="93.0" y2="211.5" stroke="#333" stroke-width="0.6"/>
<circle cx="81.5" cy="208.2" r="1.3" fill="#fff" stroke="#888" stroke-width="0.5"/>
<rect x="80.5" y="202.6" width="2" height="2" fill="#fff" stroke="#999" stroke-width="0.5"/>
<rect x="80.5" y="212.4" width="2" height="2" fill="#fff" stroke="#fff" stroke-width="0.5"/>
<rect x="80.5" y="220.5" width="2" height="2" fill="#fff" stroke="#fff" stroke-width="0.5"/>
<rect x="91.0" y="206.5" width="2" height="2" fill="#fff" stroke="#888" stroke-width="0.5"/>
<rect x="90.5" y="212.4" width="2" height="2" fill="#fff" stroke="#999" stroke-width="0.5"/>
<rect x="90.0" y="225.4" width="2" height="2" fill="#fff" stroke="#999" stroke-width="0.5"/>
<rect x="54.5" y="239.0" width="2" height="2" fill="#fff" stroke="#fff" stroke-width="0.5"/>
<circle cx="58" cy="236" r="1.1" fill="#fff" stroke="#999" stroke-width="0.5"/>
<rect x="65.0" y="226.0" width="2" height="2" fill="#fff" stroke="#999" stroke-width="0.5"/>
<rect x="65.5" y="232.0" width="2" height="2" fill="#fff" stroke="#999" stroke-width="0.5"/>
<rect x="64.5" y="239.0" width="2" height="2" fill="#fff" stroke="#aaa" stroke-width="0.5"/>
<line x1="149.2" y1="186" x2="149.2" y2="270" stroke="#aaa" stroke-width="1.0"/>
<line x1="149.2" y1="269.7" x2="209" y2="269.7" stroke="#777" stroke-width="1.0"/>
<line x1="147.7" y1="270.0" x2="149.2" y2="270.0" stroke="#777" stroke-width="0.6"/>
<text x="147" y="272.3" font-size="6.4" text-anchor="end" font-weight="bold" fill="#111">0</text>
<line x1="147.7" y1="235.0" x2="149.2" y2="235.0" stroke="#777" stroke-width="0.6"/>
<text x="147" y="237.3" font-size="6.4" text-anchor="end" font-weight="bold" fill="#111">50</text>
<line x1="147.7" y1="200.0" x2="149.2" y2="200.0" stroke="#777" stroke-width="0.6"/>
<text x="147" y="202.3" font-size="6.4" text-anchor="end" font-weight="bold" fill="#111">100</text>
<text x="132.8" y="230" font-size="7.6" text-anchor="middle" font-weight="bold" fill="#111" transform="rotate(-90 132.8 230)">TG (μmol/g protein)</text>
<rect x="156.4" y="207.3" width="8.0" height="62.39999999999998" fill="#383838" stroke="none" stroke-width="1"/>
<rect x="166.8" y="230.7" width="7.399999999999977" height="39.0" fill="#fff" stroke="#111" stroke-width="1.0"/>
<rect x="183" y="237.8" width="8.800000000000011" height="31.899999999999977" fill="#383838" stroke="none" stroke-width="1"/>
<rect x="194.2" y="244.0" width="7.700000000000017" height="25.69999999999999" fill="#fff" stroke="#111" stroke-width="1.0"/>
<text x="165.5" y="278.3" font-size="6.8" text-anchor="middle" font-weight="bold" fill="#111">Dia</text>
<text x="191.8" y="278.3" font-size="6.8" text-anchor="middle" font-weight="bold" fill="#111">Quad</text>
<text x="160.6" y="194.5" font-size="9" text-anchor="middle" font-weight="bold" fill="#111">*</text>
<line x1="154.9" y1="194.8" x2="169" y2="194.8" stroke="#222" stroke-width="0.9"/>
<line x1="160.4" y1="203.5" x2="160.4" y2="207.3" stroke="#333" stroke-width="0.6"/>
<line x1="159.20000000000002" y1="203.5" x2="161.6" y2="203.5" stroke="#333" stroke-width="0.6"/>
<line x1="170.5" y1="227.5" x2="170.5" y2="230.2" stroke="#333" stroke-width="0.6"/>
<line x1="169.3" y1="227.5" x2="171.7" y2="227.5" stroke="#333" stroke-width="0.6"/>
<line x1="187.4" y1="234.5" x2="187.4" y2="237.8" stroke="#333" stroke-width="0.6"/>
<line x1="186.20000000000002" y1="234.5" x2="188.6" y2="234.5" stroke="#333" stroke-width="0.6"/>
<line x1="198" y1="241" x2="198" y2="243.5" stroke="#333" stroke-width="0.6"/>
<line x1="196.8" y1="241" x2="199.2" y2="241" stroke="#333" stroke-width="0.6"/>
<circle cx="160.8" cy="199" r="1.3" fill="#fff" stroke="#888" stroke-width="0.5"/>
<rect x="159.5" y="226.0" width="2" height="2" fill="#fff" stroke="#fff" stroke-width="0.5"/>
<circle cx="158.8" cy="203.5" r="1.1" fill="#fff" stroke="#999" stroke-width="0.5"/>
<circle cx="162.8" cy="203.5" r="1.1" fill="#fff" stroke="#999" stroke-width="0.5"/>
<rect x="169.5" y="223.5" width="2" height="2" fill="#fff" stroke="#888" stroke-width="0.5"/>
<rect x="169.5" y="231.0" width="2" height="2" fill="#fff" stroke="#999" stroke-width="0.5"/>
<rect x="169.5" y="234.0" width="2" height="2" fill="#fff" stroke="#999" stroke-width="0.5"/>
<circle cx="187.5" cy="229" r="1.3" fill="#fff" stroke="#999" stroke-width="0.5"/>
<circle cx="187" cy="236" r="1.2" fill="#fff" stroke="#aaa" stroke-width="0.5"/>
<rect x="185.5" y="239.0" width="2" height="2" fill="#fff" stroke="#fff" stroke-width="0.5"/>
<rect x="188.5" y="239.5" width="2" height="2" fill="#fff" stroke="#fff" stroke-width="0.5"/>
<rect x="196.5" y="237.0" width="2" height="2" fill="#fff" stroke="#999" stroke-width="0.5"/>
<rect x="197.0" y="247.0" width="2" height="2" fill="#fff" stroke="#999" stroke-width="0.5"/>
<rect x="176.3" y="180.4" width="3.8" height="4.2" fill="#444" stroke="#222" stroke-width="0.5"/>
<text x="181.3" y="184.6" font-size="6.9" text-anchor="start" font-weight="bold" fill="#111">Cd36<tspan font-size="58%" dy="-3.4" style="stroke-width:0.1px">fl/fl</tspan></text>
<rect x="176.5" y="189.2" width="3.5" height="3.8" fill="#fff" stroke="#222" stroke-width="0.6"/>
<text x="181.6" y="193.3" font-size="6.8" text-anchor="start" font-weight="bold" fill="#111">smCd36<tspan font-size="58%" dy="-3.4" style="stroke-width:0.1px">-/-</tspan></text>
<line x1="269.2" y1="195" x2="269.2" y2="268.2" stroke="#777" stroke-width="0.9"/>
<line x1="269.2" y1="268.2" x2="342.5" y2="268.2" stroke="#777" stroke-width="0.9"/>
<line x1="267.8" y1="268.2" x2="269.2" y2="268.2" stroke="#777" stroke-width="0.6"/>
<text x="265.3" y="270.4" font-size="6.2" text-anchor="end" font-weight="bold" fill="#111">0</text>
<line x1="267.8" y1="247.79999999999998" x2="269.2" y2="247.79999999999998" stroke="#777" stroke-width="0.6"/>
<text x="265.3" y="249.99999999999997" font-size="6.2" text-anchor="end" font-weight="bold" fill="#111">40</text>
<line x1="267.8" y1="227.39999999999998" x2="269.2" y2="227.39999999999998" stroke="#777" stroke-width="0.6"/>
<text x="265.3" y="229.59999999999997" font-size="6.2" text-anchor="end" font-weight="bold" fill="#111">80</text>
<line x1="267.8" y1="207.0" x2="269.2" y2="207.0" stroke="#777" stroke-width="0.6"/>
<text x="265.3" y="209.2" font-size="6.2" text-anchor="end" font-weight="bold" fill="#111">120</text>
<text x="269.4" y="279" font-size="6.2" text-anchor="middle" font-weight="bold" fill="#111">0</text>
<text x="291.7" y="279" font-size="6.2" text-anchor="middle" font-weight="bold" fill="#111">40</text>
<text x="314.0" y="279" font-size="6.2" text-anchor="middle" font-weight="bold" fill="#111">80</text>
<text x="336.29999999999995" y="279" font-size="6.2" text-anchor="middle" font-weight="bold" fill="#111">120</text>
<text x="301.7" y="285.6" font-size="6.4" text-anchor="middle" font-weight="bold" fill="#111">time (min)</text>
<text x="246.9" y="231.1" font-size="6.2" text-anchor="middle" font-weight="bold" fill="#111" transform="rotate(-90 246.9 231.1)">glucose (% change)</text>
<text x="301.4" y="198.6" font-size="7.2" text-anchor="middle" font-weight="bold" fill="#111">HFD</text>
<line x1="277.7625" y1="211.2" x2="277.7625" y2="223.6" stroke="#bbb" stroke-width="0.6"/>
<line x1="276.7625" y1="211.2" x2="278.7625" y2="211.2" stroke="#bbb" stroke-width="0.5"/>
<line x1="276.7625" y1="223.6" x2="278.7625" y2="223.6" stroke="#bbb" stroke-width="0.5"/>
<line x1="286.125" y1="208.8" x2="286.125" y2="226" stroke="#bbb" stroke-width="0.6"/>
<line x1="285.125" y1="208.8" x2="287.125" y2="208.8" stroke="#bbb" stroke-width="0.5"/>
<line x1="285.125" y1="226" x2="287.125" y2="226" stroke="#bbb" stroke-width="0.5"/>
<line x1="302.84999999999997" y1="200.3" x2="302.84999999999997" y2="229.4" stroke="#bbb" stroke-width="0.6"/>
<line x1="301.84999999999997" y1="200.3" x2="303.84999999999997" y2="200.3" stroke="#bbb" stroke-width="0.5"/>
<line x1="301.84999999999997" y1="229.4" x2="303.84999999999997" y2="229.4" stroke="#bbb" stroke-width="0.5"/>
<line x1="336.29999999999995" y1="196.9" x2="336.29999999999995" y2="231.1" stroke="#bbb" stroke-width="0.6"/>
<line x1="335.29999999999995" y1="196.9" x2="337.29999999999995" y2="196.9" stroke="#bbb" stroke-width="0.5"/>
<line x1="335.29999999999995" y1="231.1" x2="337.29999999999995" y2="231.1" stroke="#bbb" stroke-width="0.5"/>
<polyline points="269.4,216.8 277.7625,216.2 286.125,216 302.84999999999997,215.3 336.29999999999995,214" fill="none" stroke="#888" stroke-width="1.1"/>
<polyline points="269.4,217.2 277.7625,216.6 286.125,216.3 302.84999999999997,215.7 336.29999999999995,214.4" fill="none" stroke="#333" stroke-width="0.9"/>
<circle cx="277.7625" cy="215.5" r="0.9" fill="#444" stroke="#444" stroke-width="0.3"/>
<circle cx="286.125" cy="214" r="0.9" fill="#444" stroke="#444" stroke-width="0.3"/>
<circle cx="302.84999999999997" cy="215.7" r="0.9" fill="#444" stroke="#444" stroke-width="0.3"/>
<circle cx="336.29999999999995" cy="214" r="0.9" fill="#444" stroke="#444" stroke-width="0.3"/>
<circle cx="269.4" cy="217" r="1.05" fill="#fff" stroke="#666" stroke-width="0.55"/>
<circle cx="277.7625" cy="216.5" r="1.05" fill="#fff" stroke="#666" stroke-width="0.55"/>
<circle cx="286.125" cy="225" r="1.05" fill="#fff" stroke="#666" stroke-width="0.55"/>
<circle cx="302.84999999999997" cy="206.4" r="1.05" fill="#fff" stroke="#666" stroke-width="0.55"/>
<circle cx="336.29999999999995" cy="217.4" r="1.05" fill="#fff" stroke="#666" stroke-width="0.55"/>
<line x1="282.6" y1="230.2" x2="292.8" y2="230.2" stroke="#999" stroke-width="0.8"/>
<circle cx="287.7" cy="230.2" r="0.9" fill="#555" stroke="#555" stroke-width="0.3"/>
<text x="295.6" y="232.8" font-size="6.9" text-anchor="start" font-weight="bold" fill="#111">Cd36<tspan font-size="58%" dy="-3.4" style="stroke-width:0.1px">fl/fl</tspan></text>
<line x1="282.6" y1="240.5" x2="292.8" y2="240.5" stroke="#444" stroke-width="0.8"/>
<circle cx="287.7" cy="240.5" r="1.1" fill="#fff" stroke="#444" stroke-width="0.6"/>
<text x="295.6" y="243.2" font-size="6.9" text-anchor="start" font-weight="bold" fill="#111">smCd36<tspan font-size="58%" dy="-3.4" style="stroke-width:0.1px">-/-</tspan></text>
<line x1="390" y1="204.6" x2="390" y2="223" stroke="#999" stroke-width="0.9"/>
<line x1="390" y1="226.3" x2="390" y2="267.5" stroke="#999" stroke-width="0.9"/>
<line x1="390" y1="267.5" x2="478" y2="267.5" stroke="#888" stroke-width="0.9"/>
<line x1="388.7" y1="217.8" x2="390" y2="217.8" stroke="#666" stroke-width="0.5"/>
<text x="388.3" y="219.70000000000002" font-size="5.2" text-anchor="end" font-weight="bold" fill="#222" style="stroke-width:0.12px">4</text>
<line x1="388.7" y1="206.4" x2="390" y2="206.4" stroke="#666" stroke-width="0.5"/>
<text x="388.3" y="208.3" font-size="5.2" text-anchor="end" font-weight="bold" fill="#222" style="stroke-width:0.12px">6</text>
<line x1="388.7" y1="267.2" x2="390" y2="267.2" stroke="#666" stroke-width="0.5"/>
<text x="388.3" y="269.09999999999997" font-size="5.2" text-anchor="end" font-weight="bold" fill="#222" style="stroke-width:0.12px">0.00</text>
<line x1="388.7" y1="254.23333333333332" x2="390" y2="254.23333333333332" stroke="#666" stroke-width="0.5"/>
<text x="388.3" y="256.1333333333333" font-size="5.2" text-anchor="end" font-weight="bold" fill="#222" style="stroke-width:0.12px">0.05</text>
<line x1="388.7" y1="241.26666666666665" x2="390" y2="241.26666666666665" stroke="#666" stroke-width="0.5"/>
<text x="388.3" y="243.16666666666666" font-size="5.2" text-anchor="end" font-weight="bold" fill="#222" style="stroke-width:0.12px">0.10</text>
<line x1="388.7" y1="228.29999999999998" x2="390" y2="228.29999999999998" stroke="#666" stroke-width="0.5"/>
<text x="388.3" y="230.2" font-size="5.2" text-anchor="end" font-weight="bold" fill="#222" style="stroke-width:0.12px">0.15</text>
<text x="376.6" y="234" font-size="6.1" text-anchor="middle" font-weight="bold" fill="#111" transform="rotate(-90 376.6 234)">FDG uptake (%ID/organ)</text>
<rect x="402" y="244.6" width="12.899999999999977" height="22.900000000000006" fill="#383838" stroke="none" stroke-width="1"/>
<rect x="417.7" y="242.0" width="12.0" height="25.5" fill="#fff" stroke="#111" stroke-width="1.0"/>
<rect x="441.3" y="228.2" width="13.0" height="39.30000000000001" fill="#383838" stroke="none" stroke-width="1"/>
<rect x="441.3" y="214.9" width="13.0" height="8.599999999999994" fill="#383838" stroke="none" stroke-width="1"/>
<rect x="457.2" y="216.3" width="11.4" height="51.2" fill="#fff" stroke="#444" stroke-width="1.0"/>
<text x="416" y="275.5" font-size="6.9" text-anchor="middle" font-weight="bold" fill="#111">Hind limb</text>
<text x="455.3" y="275.5" font-size="6.9" text-anchor="middle" font-weight="bold" fill="#111">Heart</text>
<line x1="408.6" y1="235.8" x2="408.6" y2="244.6" stroke="#444" stroke-width="0.6"/>
<line x1="407.3" y1="235.8" x2="409.90000000000003" y2="235.8" stroke="#444" stroke-width="0.6"/>
<line x1="423.2" y1="231.3" x2="423.2" y2="241.5" stroke="#444" stroke-width="0.6"/>
<line x1="421.9" y1="231.3" x2="424.5" y2="231.3" stroke="#444" stroke-width="0.6"/>
<line x1="448.5" y1="210" x2="448.5" y2="214.9" stroke="#444" stroke-width="0.6"/>
<line x1="447.2" y1="210" x2="449.8" y2="210" stroke="#444" stroke-width="0.6"/>
<line x1="462.9" y1="212" x2="462.9" y2="216" stroke="#444" stroke-width="0.6"/>
<line x1="461.59999999999997" y1="212" x2="464.2" y2="212" stroke="#444" stroke-width="0.6"/>
<circle cx="408.5" cy="256" r="1.2" fill="#fff" stroke="#fff" stroke-width="0.4"/>
<rect x="407.5" y="238.6" width="2" height="2" fill="#fff" stroke="#fff" stroke-width="0.4"/>
<circle cx="406.5" cy="235.8" r="1.1" fill="#fff" stroke="#bbb" stroke-width="0.5"/>
<circle cx="410.5" cy="235.8" r="1.1" fill="#fff" stroke="#bbb" stroke-width="0.5"/>
<rect x="420.1" y="230.5" width="2" height="2" fill="#fff" stroke="#999" stroke-width="0.5"/>
<rect x="424.3" y="228.5" width="2" height="2" fill="#fff" stroke="#999" stroke-width="0.5"/>
<rect x="422.6" y="258.3" width="2" height="2" fill="#fff" stroke="#aaa" stroke-width="0.5"/>
<rect x="448.5" y="217.2" width="2" height="2" fill="#fff" stroke="#fff" stroke-width="0.4"/>
<circle cx="445.8" cy="222.3" r="1" fill="#fff" stroke="#fff" stroke-width="0.3"/>
<circle cx="448.2" cy="207.3" r="1.2" fill="#fff" stroke="#aaa" stroke-width="0.5"/>
<rect x="459.4" y="208.7" width="2" height="2" fill="#fff" stroke="#999" stroke-width="0.5"/>
<rect x="463.0" y="209.9" width="2" height="2" fill="#fff" stroke="#999" stroke-width="0.5"/>
<circle cx="463" cy="223.5" r="1.2" fill="#fff" stroke="#999" stroke-width="0.5"/>
<rect x="408.6" y="178.4" width="4" height="4.2" fill="#444" stroke="#333" stroke-width="0.6"/>
<text x="414.5" y="182.2" font-size="6.9" text-anchor="start" font-weight="bold" fill="#111">Cd36<tspan font-size="58%" dy="-3.4" style="stroke-width:0.1px">fl/fl</tspan></text>
<rect x="408.9" y="187" width="3.6" height="3.8" fill="#fff" stroke="#333" stroke-width="0.7"/>
<text x="414.5" y="191" font-size="6.9" text-anchor="start" font-weight="bold" fill="#111">smCd36<tspan font-size="58%" dy="-3.4" style="stroke-width:0.1px">-/-</tspan></text>
</svg></body></html>
